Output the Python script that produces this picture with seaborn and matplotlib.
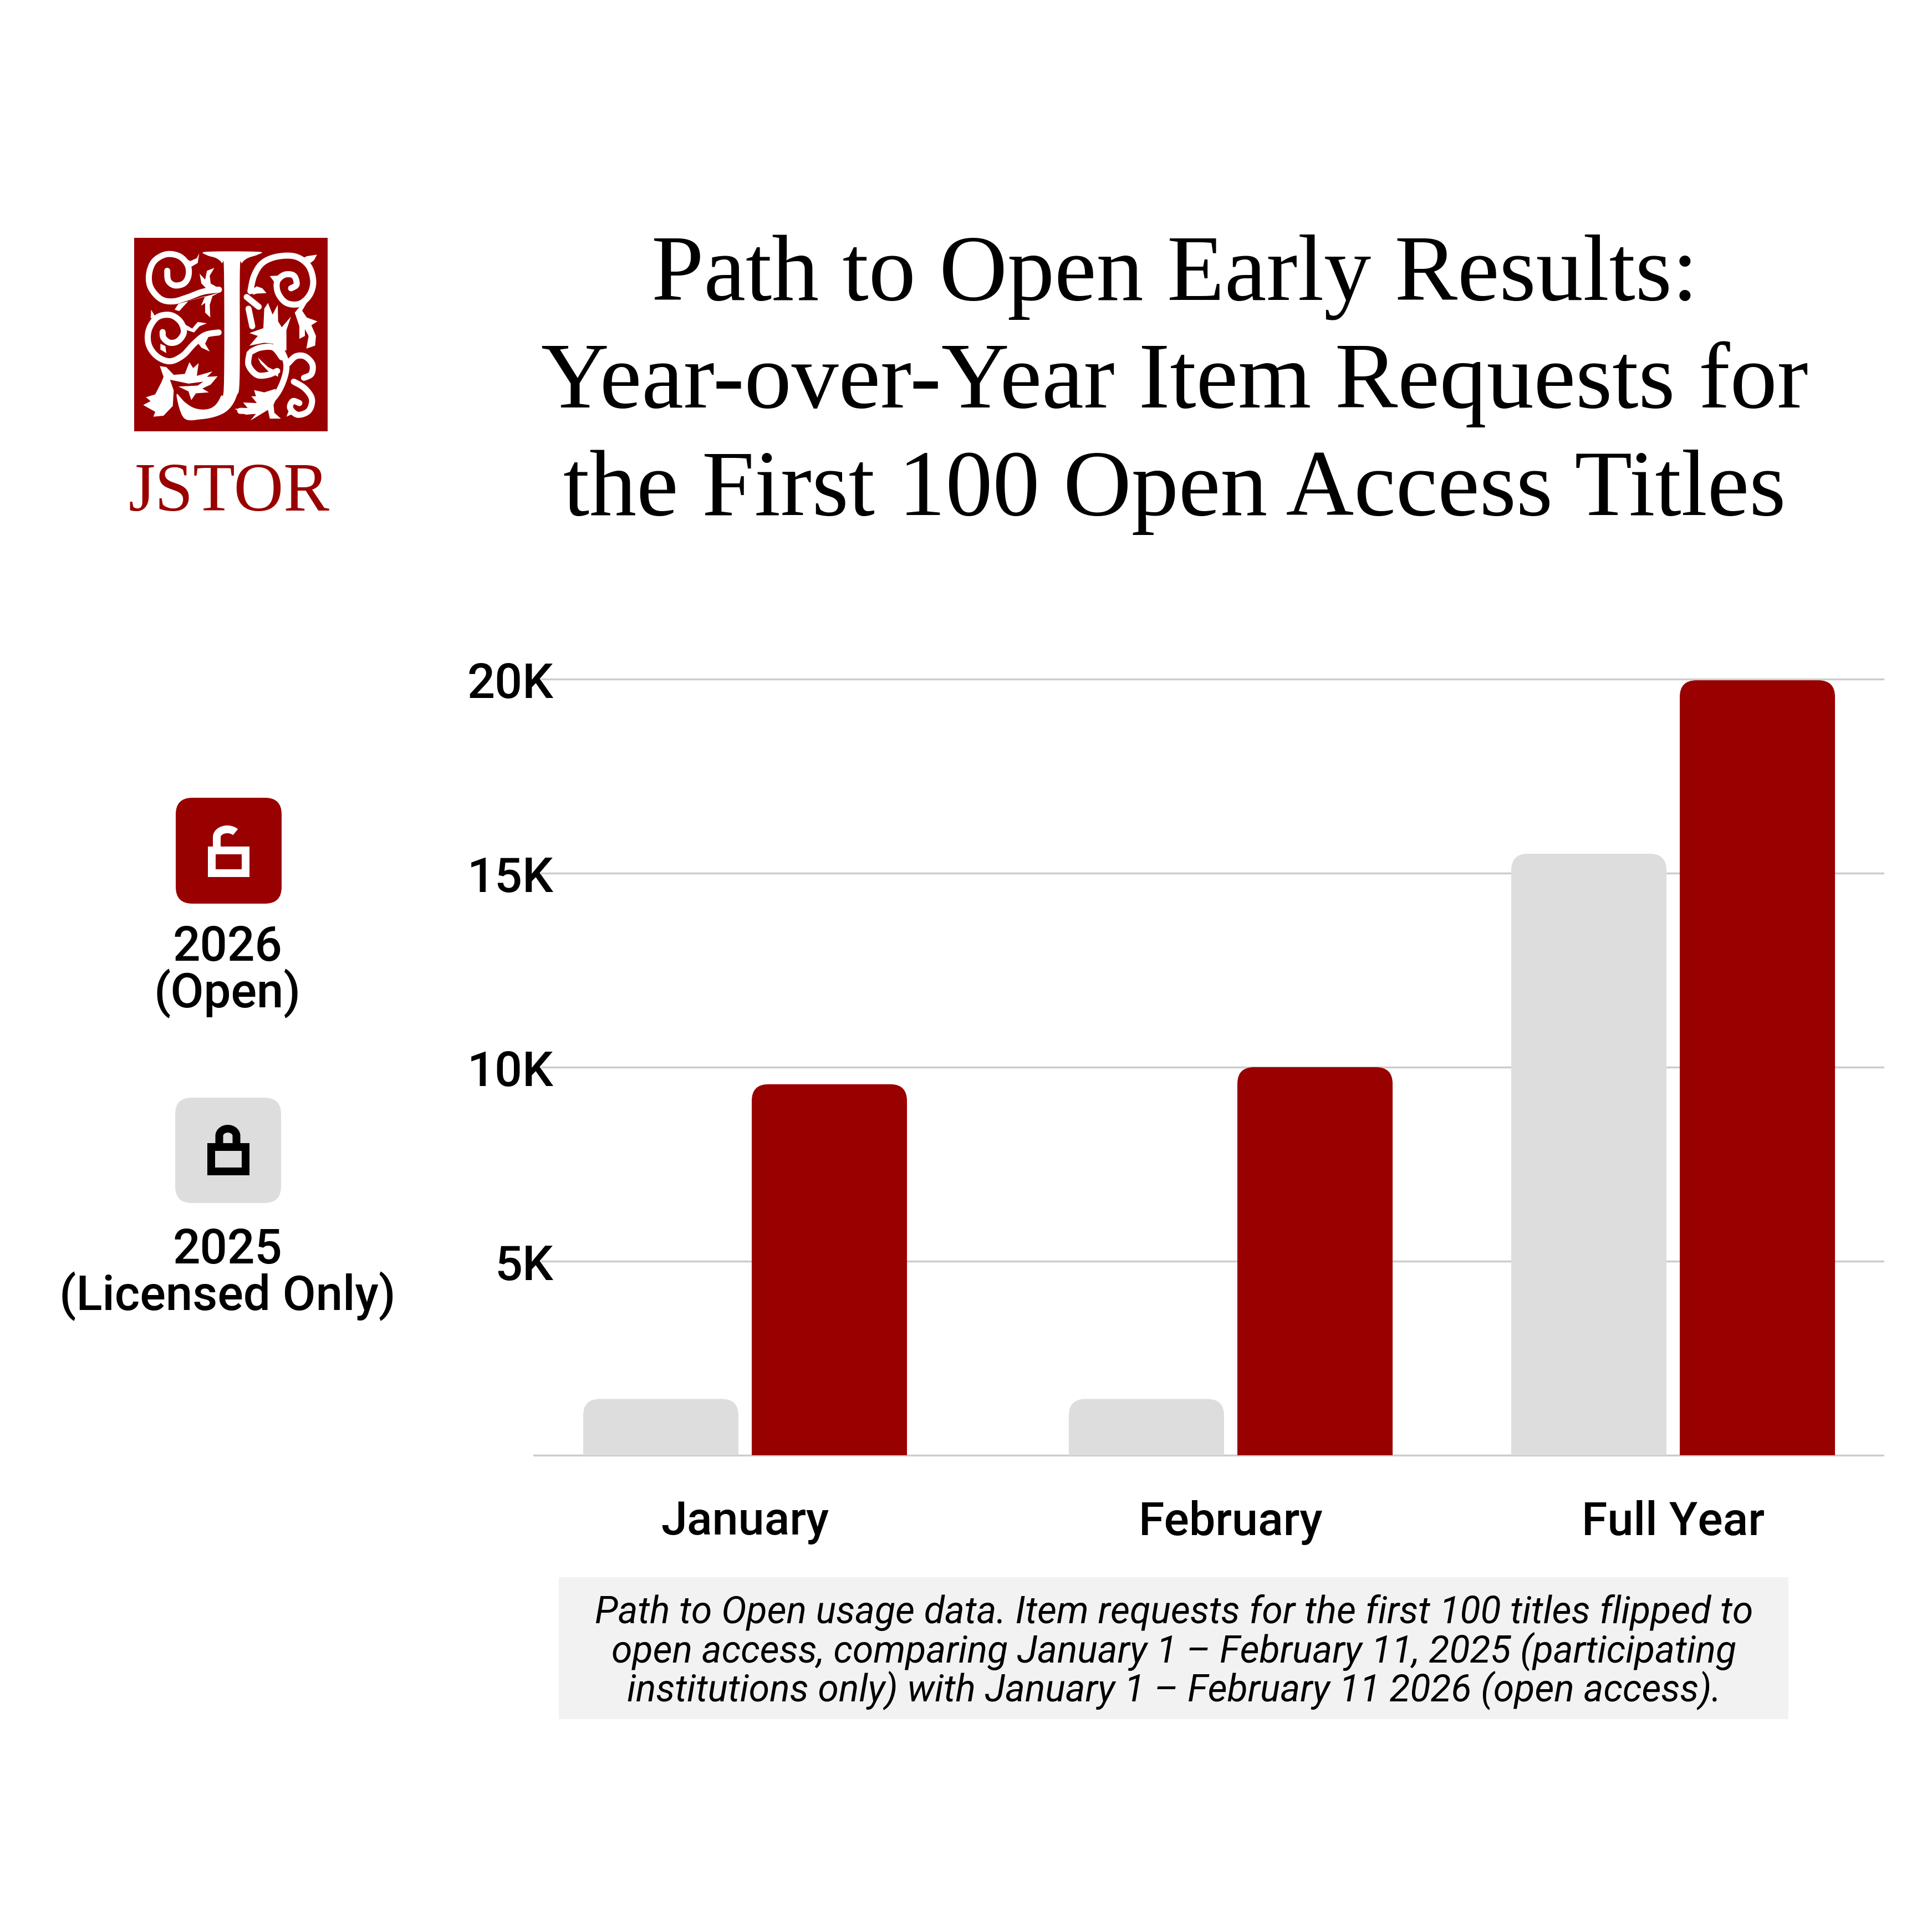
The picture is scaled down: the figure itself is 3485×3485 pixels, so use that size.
import numpy as np
import pandas as pd
import matplotlib
matplotlib.use("Agg")
import matplotlib.pyplot as plt
from matplotlib.patches import PathPatch, Rectangle, FancyBboxPatch, Polygon
from matplotlib.path import Path
import seaborn as sns

# ---- chart values (item requests) ----
periods = ["January", "February", "Full Year"]
requests_2025 = [1450, 1450, 15500]
requests_2026 = [9560, 10000, 19970]
year_names = ["2025", "2026"]
ytick_values = [0, 5000, 10000, 15000, 20000]
ytick_labels = ["", "5K", "10K", "15K", "20K"]

title_lines = ["Path to Open Early Results:",
               "Year-over-Year Item Requests for",
               "the First 100 Open Access Titles"]
note_lines = ["Path to Open usage data. Item requests for the first 100 titles flipped to",
              "open access, comparing January 1 – February 11, 2025 (participating",
              "institutions only) with January 1 – February 11 2026 (open access)."]

# ---- layout (canvas pixels) ----
SIZE = 3486
DPI = 300
RED = "#990000"
GREY = "#dddddd"
RULE = "#cccccc"
group_centres = [1344, 2220, 3018]
PX = 72 / DPI  # points per canvas pixel

sns.set_theme(style="white")
plt.rcParams["font.family"] = ["Roboto", "DejaVu Sans"]

fig = plt.figure(figsize=(SIZE / DPI, SIZE / DPI), dpi=DPI, facecolor="white")

# overlay in canvas pixels for the logo, title, legend and note
canvas = fig.add_axes([0, 0, 1, 1], zorder=0)
canvas.set_xlim(0, SIZE)
canvas.set_ylim(SIZE, 0)
canvas.axis("off")

# ---- bars ----
ax_l, ax_r, ax_t, ax_b = 963, 3397, 1226, 2626
ax = fig.add_axes([ax_l / SIZE, 1 - ax_b / SIZE, (ax_r - ax_l) / SIZE, (ax_b - ax_t) / SIZE],
                  zorder=1)
ax.patch.set_alpha(0)

frame = pd.DataFrame({
    "slot": group_centres * 2,
    "requests": requests_2025 + requests_2026,
    "year": [year_names[0]] * 3 + [year_names[1]] * 3,
})
sns.barplot(data=frame, x="slot", y="requests", hue="year", hue_order=year_names,
            palette=[GREY, RED], native_scale=True, width=0.762, gap=0.079,
            dodge=True, legend=False, saturation=1, ax=ax, zorder=3)

ax.set_xlim(ax_l, ax_r)
ax.set_ylim(0, 20000)
ax.set_xlabel("")
ax.set_ylabel("")
ax.set_yticks(ytick_values, ytick_labels)
ax.set_xticks(group_centres, periods)
ax.grid(False)
# rules begin inside the last letter of each tick label; the baseline runs the full width
rule_start = (977 - ax_l) / (ax_r - ax_l)
for v in ytick_values:
    ax.axhline(v, xmin=0 if v == 0 else rule_start, color=RULE, lw=3.4 * PX, zorder=1, clip_on=False)
for s in ax.spines.values():
    s.set_visible(False)
ax.tick_params(axis="y", length=0, pad=-35 * PX, labelsize=88 * PX)
ax.tick_params(axis="x", length=0, pad=80 * PX, labelsize=84.5 * PX)
for lab in ax.get_yticklabels() + ax.get_xticklabels():
    lab.set_fontweight("medium")
    lab.set_color("black")

# swap each rectangle for one with rounded top corners
px_per_value = (ax_b - ax_t) / 20000
radius_px = 30
for bar in list(ax.patches):
    x0, w, h = bar.get_x(), bar.get_width(), bar.get_height()
    colour = bar.get_facecolor()
    rx, ry = radius_px, radius_px / px_per_value
    verts = [(x0, 0), (x0, h - ry), (x0, h), (x0 + rx, h),
             (x0 + w - rx, h), (x0 + w, h), (x0 + w, h - ry), (x0 + w, 0), (x0, 0)]
    codes = [Path.MOVETO, Path.LINETO, Path.CURVE3, Path.CURVE3,
             Path.LINETO, Path.CURVE3, Path.CURVE3, Path.LINETO, Path.CLOSEPOLY]
    bar.remove()
    ax.add_patch(PathPatch(Path(verts, codes), facecolor=colour, edgecolor="none", zorder=3))


def label(x, y, s, size, **kw):
    kw.setdefault("ha", "center")
    kw.setdefault("va", "baseline")
    kw.setdefault("color", "black")
    return canvas.text(x, y, s, fontsize=size * PX, **kw)


# ---- title ----
for y, line in zip([540, 735, 929], title_lines):
    label(2119, y, line, 170, family=["Liberation Serif"])

# ---- legend tiles ----
def tile(x0, y0, x1, y1, colour):
    r = 30
    canvas.add_patch(FancyBboxPatch((x0 + r, y0 + r), x1 - x0 - 2 * r, y1 - y0 - 2 * r,
                                    boxstyle=f"round,pad={r},rounding_size={r}",
                                    facecolor=colour, edgecolor="none"))


def lock(x0, x1, y0, y1, colour, wall, opened):
    # shackle first, then the body as a hollow rectangle
    mid = (x0 + x1) / 2
    if opened:
        t = np.linspace(np.pi, np.pi * 0.22, 40)
        sx = mid + 19 * np.cos(t) - 2.5
        sy = y0 - 17 + 14 * np.sin(-t)
        canvas.plot(np.r_[sx[0], sx], np.r_[y0, sy], color=colour, lw=14 * PX, solid_capstyle="butt")
    else:
        t = np.linspace(np.pi, 0, 40)
        sx = mid + 15.5 * np.cos(t) - 1
        sy = y0 - 13 + 13 * np.sin(-t)
        canvas.plot(np.r_[sx[0], sx, sx[-1]], np.r_[y0, sy, y0], color=colour, lw=14 * PX,
                    solid_capstyle="butt")
    canvas.add_patch(Rectangle((x0 + wall / 2, y0 + wall / 2), x1 - x0 - wall, y1 - y0 - wall,
                               facecolor="none", edgecolor=colour, lw=wall * PX))


tile(317, 1440, 508, 1631, RED)
lock(375, 450, 1528, 1583, "white", 14, True)
tile(316, 1981, 507, 2171, GREY)
lock(374, 450, 2063, 2121, "black", 14, False)

for y, s in [(1733, "2026"), (1817, "(Open)"), (2279, "2025"), (2363, "(Licensed Only)")]:
    label(410, y, s, 87, fontweight="medium")

# ---- note ----
canvas.add_patch(Rectangle((1008, 2846), 3226 - 1008, 3102 - 2846, facecolor="#f2f2f2", edgecolor="none"))
for y, line in zip([2928, 2998, 3068], note_lines):
    label(2118, y, line, 68, fontstyle="italic")

# ---- JSTOR mark ----
canvas.add_patch(Rectangle((242, 430), 349, 349, facecolor=RED, edgecolor="none"))
label(413, 921, "JSTOR", 124, family=["Liberation Serif"], color=RED)


def to_canvas(points):
    p = np.asarray(points, float)
    return np.c_[200 + p[:, 0] / 3, 400 + p[:, 1] / 2.85]


def smooth(points, closed=False, n=12):
    # Catmull-Rom resampling of a hand-laid ornament outline
    p = np.asarray(points, float)
    if closed:
        q = np.vstack([p[-1], p, p[0], p[1]])
    else:
        q = np.vstack([p[0], p, p[-1]])
    out = []
    for i in range(1, len(q) - 2):
        t = np.linspace(0, 1, n, endpoint=False)[:, None]
        a, b, c, d = q[i - 1], q[i], q[i + 1], q[i + 2]
        out.append(0.5 * (2 * b + (c - a) * t + (2 * a - 5 * b + 4 * c - d) * t ** 2
                          + (3 * b - a - 3 * c + d) * t ** 3))
    out.append(q[-2][None, :])
    return np.vstack(out)


letter_j = [(517, 157), (797, 157), (795, 172), (740, 190), (710, 215), (698, 260), (697, 800),
            (680, 900), (640, 965), (580, 1000), (490, 1018), (395, 1012), (355, 890), (400, 930),
            (450, 960), (510, 968), (560, 950), (595, 900), (612, 830), (612, 260), (600, 215),
            (570, 190), (520, 175)]

scrolls = [
    [(585, 352), (500, 362), (420, 390), (340, 412), (270, 400), (215, 340), (207, 270), (235, 205),
     (300, 170), (370, 180), (415, 225), (420, 280), (395, 320), (345, 330), (310, 305), (305, 255)],
    [(583, 572), (510, 585), (450, 630), (390, 690), (320, 720), (250, 695), (205, 635), (205, 560),
     (250, 495), (320, 482), (375, 515), (395, 570), (365, 615), (320, 625), (285, 600), (280, 570)],
    [(755, 360), (775, 280), (820, 215), (900, 182), (1000, 182), (1070, 230), (1095, 310),
     (1075, 380), (1020, 425), (950, 420), (905, 370), (900, 310), (940, 275), (990, 280),
     (1005, 325), (975, 345)],
    [(960, 730), (1000, 695), (1050, 695), (1090, 735), (1085, 785), (1045, 805)],
    [(990, 825), (1050, 860), (1088, 915), (1070, 975), (1010, 995), (970, 960), (985, 925), (1020, 935)],
    [(860, 520), (870, 590), (920, 660), (950, 740), (930, 830), (880, 910), (800, 970), (700, 975)],
    [(750, 680), (745, 740), (790, 790), (850, 790), (900, 770)],
    [(760, 670), (810, 650), (880, 650), (925, 700)],
    [(735, 390), (800, 440)],
    [(745, 450), (765, 540)],
]

leaves = [
    [(380, 180), (430, 205), (465, 190), (478, 165), (470, 215), (425, 240)],
    [(585, 345), (540, 320), (535, 280), (560, 240), (520, 255), (510, 300), (480, 270), (490, 320), (525, 355)],
    [(585, 368), (550, 385), (535, 430), (538, 495), (510, 470), (510, 420), (488, 435), (510, 385),
     (420, 410), (370, 462), (345, 455), (365, 425)],
    [(218, 455), (240, 490), (215, 500)],
    [(400, 530), (440, 552), (470, 518), (520, 525), (480, 540), (450, 572), (410, 560)],
    [(530, 590), (510, 630), (535, 670), (490, 650), (470, 625)],
    [(268, 630), (295, 642), (300, 678), (268, 660)],
    [(265, 745), (300, 750), (340, 790), (400, 785), (425, 725), (445, 755), (475, 730), (465, 795),
     (550, 772), (520, 800), (578, 797), (540, 840), (495, 860), (530, 880), (460, 885), (435, 920),
     (420, 875), (365, 850), (470, 845), (500, 825), (420, 835), (320, 815), (340, 870), (335, 950),
     (285, 1000), (230, 1005), (240, 980), (175, 945), (215, 925), (190, 905), (240, 890), (275, 825),
     (285, 800)],
    [(1115, 172), (1100, 200), (1080, 215), (1040, 190), (1060, 180)],
    [(755, 355), (790, 335), (820, 345), (842, 370), (790, 372), (770, 378)],
    [(860, 282), (900, 280), (920, 300), (890, 320)],
    [(1030, 430), (995, 470), (1020, 540), (1020, 605), (1050, 590), (1050, 555), (1070, 590), (1058, 655),
     (1105, 640), (1110, 590), (1085, 535), (1118, 515), (1060, 495), (1035, 460), (1060, 420)],
    [(850, 420), (830, 450), (825, 550), (750, 575), (795, 590), (750, 640), (830, 625), (880, 630),
     (920, 660), (950, 665), (950, 560), (975, 490), (925, 545), (905, 515), (903, 430), (875, 480)],
    [(890, 862), (830, 880), (775, 868), (785, 900), (760, 900), (790, 935), (715, 932), (740, 960),
     (670, 965), (730, 995), (785, 990), (755, 1025), (850, 970), (860, 1015), (920, 1015), (885, 985),
     (880, 945), (900, 900)],
    [(795, 700), (850, 750), (905, 775), (905, 800), (850, 770), (810, 730)],
    [(950, 1005), (962, 975), (985, 990)],
]

letter = smooth(letter_j, closed=True, n=6)
canvas.add_patch(Polygon(to_canvas(letter), closed=True, facecolor="white", edgecolor="none"))
for stroke in scrolls:
    xy = to_canvas(smooth(stroke))
    canvas.plot(xy[:, 0], xy[:, 1], color="white", lw=11 * PX, solid_capstyle="round",
                solid_joinstyle="round")
for leaf in leaves:
    canvas.add_patch(Polygon(to_canvas(leaf), closed=True, facecolor="white", edgecolor="none"))

fig.savefig("out.png", dpi=DPI, facecolor="white")
